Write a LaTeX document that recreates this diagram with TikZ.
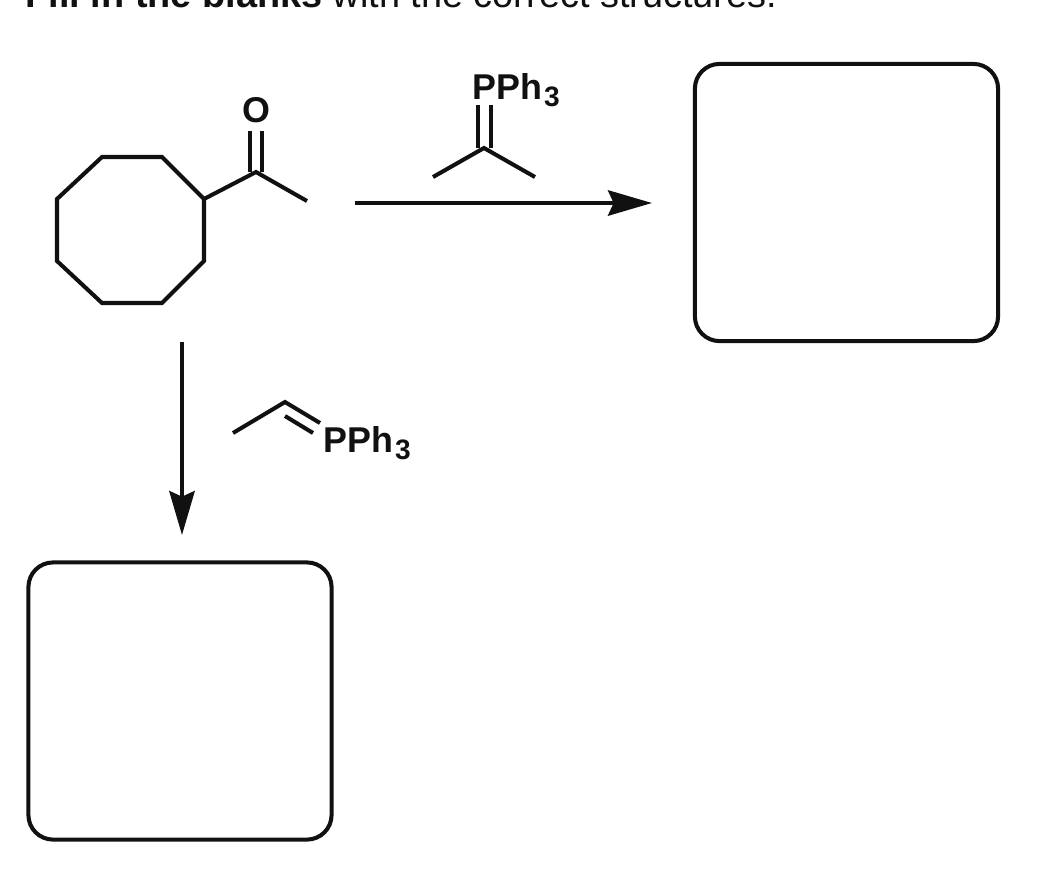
\documentclass[tikz,border=0pt]{standalone}
\usepackage{fontspec}
\setmainfont{Liberation Sans}
\usetikzlibrary{calc}
\usetikzlibrary{arrows.meta}
\definecolor{C0}{HTML}{111111}
\def\subthree{\kern0.5pt\raisebox{-2pt}{\fontsize{8}{8}\selectfont 3}}

\tikzset{
bond/.style = {draw=C0,line width=1.15pt,line join=miter},
rxn/.style = {draw=C0,line width=1.2pt,-{Stealth[length=12.5pt,width=7.2pt,inset=1.6pt]}},
blank/.style = {draw=C0,line width=1.15pt,rounded corners=7pt,minimum width=3.03cm,minimum height=2.77cm,inner sep=0pt},
atom/.style = {text=C0,font=\fontsize{10.2}{12}\selectfont\bfseries,inner sep=0pt}
}

\begin{document}
\begin{tikzpicture}[x=0.01cm,y=-0.01cm]

\useasboundingbox (0,0) rectangle (1044,896);

\node (title) at (25,7) [anchor=base west,inner sep=0pt,text=C0,font=\fontsize{10.77}{12}\selectfont] {\textbf{Fill in the blanks} with the correct structures.};

% cyclooctane ring
\coordinate (r_a) at (102,157);
\coordinate (r_b) at (162,157);
\coordinate (r_c) at (204,199);
\coordinate (r_d) at (204,261);
\coordinate (r_e) at (162,303);
\coordinate (r_f) at (102,303);
\coordinate (r_g) at (57,261);
\coordinate (r_h) at (57,199);
\draw[bond] (r_a) -- (r_b) -- (r_c) -- (r_d) -- (r_e) -- (r_f) -- (r_g) -- (r_h) -- cycle;

% acetyl
\coordinate (k_c) at (256,172);
\coordinate (k_me) at (307,201);
\coordinate (k_l) at (250,172);
\coordinate (k_r) at (262,172);
\coordinate (k_lo) at (250,131);
\coordinate (k_ro) at (262,131);
\node (k_o) at (256,110) [atom] {O};
\draw[bond] (r_c) -- (k_c) -- (k_me);
\draw[bond] (k_l) -- (k_lo);
\draw[bond] (k_r) -- (k_ro);

% first ylide
\node (y_p) at (472,99) [atom,anchor=base west] {PPh\subthree};
\coordinate (y_c) at (484,148);
\coordinate (y_a) at (433,177);
\coordinate (y_b) at (535,177);
\coordinate (y_l) at (478,148);
\coordinate (y_r) at (491,148);
\coordinate (y_lp) at (478,105);
\coordinate (y_rp) at (491,105);
\draw[bond] (y_a) -- (y_c) -- (y_b);
\draw[bond] (y_l) -- (y_lp);
\draw[bond] (y_r) -- (y_rp);

% second ylide
\node (z_p) at (323,452) [atom,anchor=base west] {PPh\subthree};
\coordinate (z_a) at (233,433);
\coordinate (z_c) at (285,402);
\coordinate (z_d) at (320,423);
\coordinate (z_e) at (285,416);
\coordinate (z_f) at (313,433);
\draw[bond] (z_a) -- (z_c) -- (z_d);
\draw[bond] (z_e) -- (z_f);

% answer boxes
\node (box_a) at (846.5,202.5) [blank] {};
\node (box_b) at (180,701) [blank] {};

% arrows
\coordinate (h_s) at (355,203);
\coordinate (h_t) at (652,203);
\coordinate (v_s) at (182,342);
\coordinate (v_t) at (182,535);
\draw[rxn] (h_s) -- (h_t);
\draw[rxn] (v_s) -- (v_t);

\end{tikzpicture}
\end{document}
